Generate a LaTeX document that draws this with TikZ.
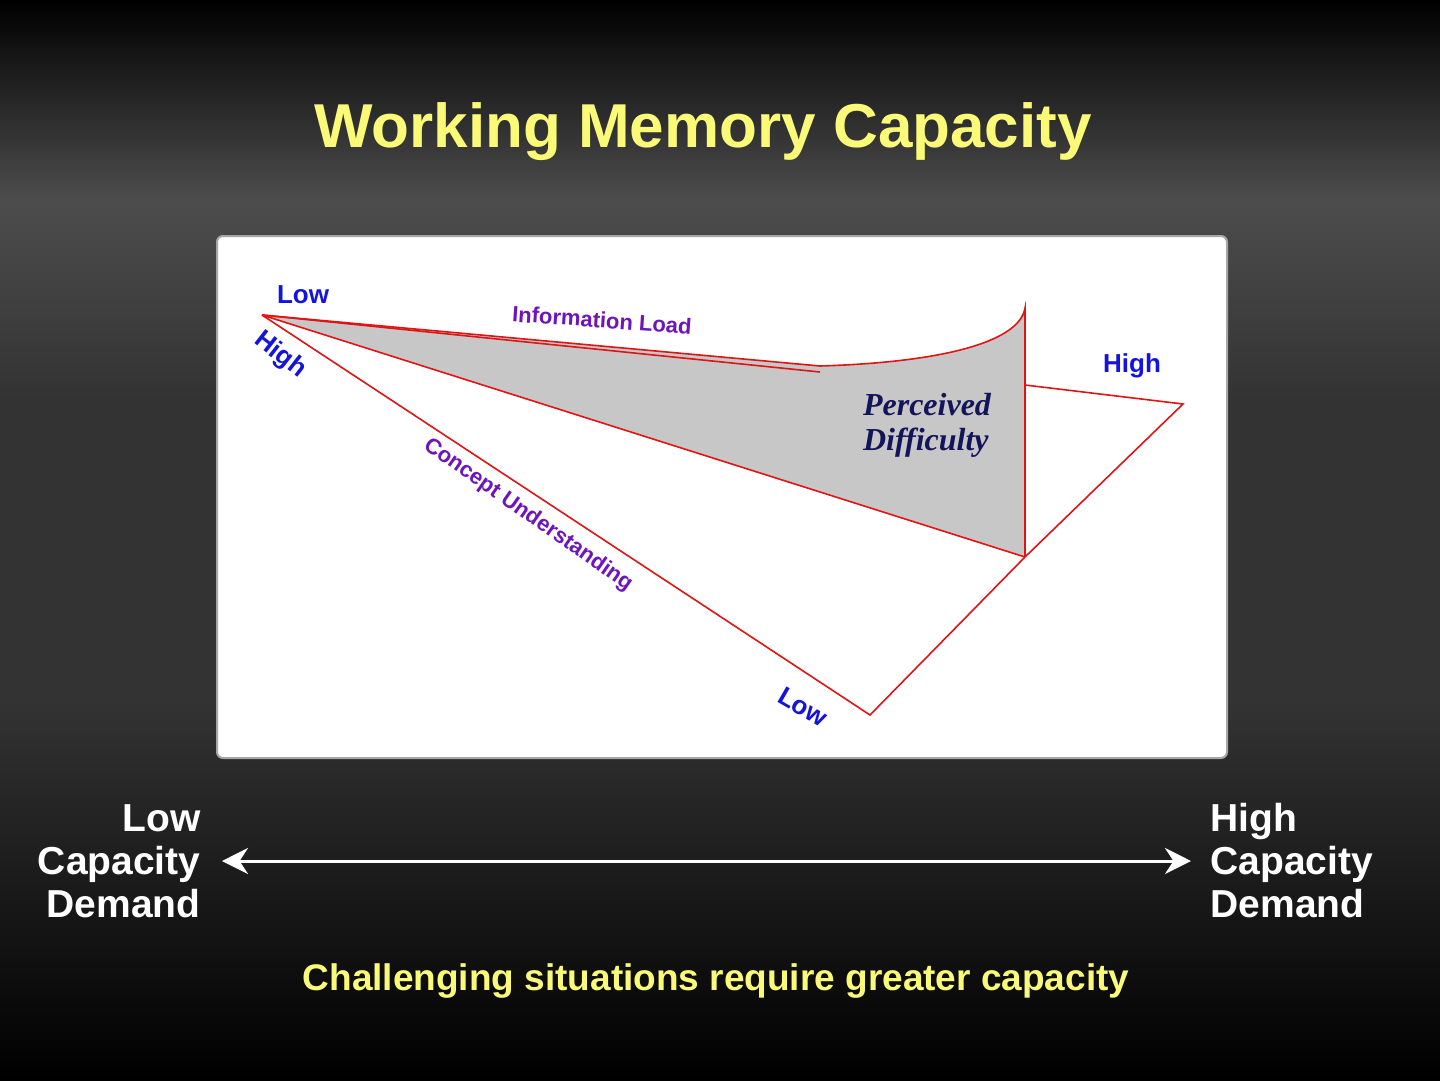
\documentclass[tikz,border=0pt]{standalone}
\usepackage{fontspec}
\setmainfont{Liberation Sans}
\newfontfamily\serifit{Liberation Serif}
\usetikzlibrary{arrows.meta,calc}
\definecolor{ttl}{RGB}{250,250,120}
\definecolor{lblue}{RGB}{20,20,220}
\definecolor{lpurp}{RGB}{110,20,190}
\definecolor{lred}{RGB}{225,20,20}
\definecolor{navy}{RGB}{20,20,90}
\tikzset{
 redl/.style={draw=lred,line width=1.6pt},
 blu/.style={text=lblue,font=\bfseries\fontsize{26}{28}\selectfont},
 pur/.style={text=lpurp,font=\bfseries\fontsize{22}{24}\selectfont},
 side/.style={text=white,font=\bfseries\fontsize{39}{43}\selectfont,align=#1},
}
\begin{document}
\begin{tikzpicture}[x=1pt,y=-1pt]
\useasboundingbox (0,0) rectangle (1440,1080);
\shade[top color=black,bottom color=black!60!gray,middle color=black!70] (0,0) rectangle (1440,400);
\shade[top color=black!60!gray,bottom color=black!60!gray] (0,400) rectangle (1440,700);
\shade[top color=black!60!gray,bottom color=black] (0,700) rectangle (1440,1080);
\node (title) [text=ttl,font=\bfseries\fontsize{62}{66}\selectfont] at (703,132) {Working Memory Capacity};
\draw[fill=white,draw=gray!70,line width=2pt,rounded corners=6pt] (217,236) rectangle (1227,758);
\coordinate (A) at (262,315);
\coordinate (M) at (820,366);
\coordinate (P) at (1025,308);
\coordinate (B) at (1025,557);
\coordinate (L) at (870,715);
\coordinate (R) at (1183,404);
\coordinate (H) at (1025,385);
\fill[black!22] (A) -- (M) .. controls (950,362) and (1020,340) .. (P) -- (B) -- cycle;
\draw[redl] (A) -- (M) .. controls (950,362) and (1020,340) .. (P) -- (B);
\draw[redl] (A) -- (820,372);
\draw[redl] (A) -- (B);
\draw[redl] (A) -- (L) -- (B) -- (R) -- (H);
\node (lo1) [blu] at (303,295) {Low};
\node (hi1) [blu,rotate=-38] at (280,355) {High};
\node (il) [pur,rotate=-4] at (602,320) {\textsc{Information Load}};
\node (cu) [pur,rotate=-35] at (528,515) {\textsc{Concept Understanding}};
\node (lo2) [blu,rotate=-30] at (803,707) {Low};
\node (hi2) [blu] at (1132,366) {High};
\node (pd) [text=navy,font=\serifit\bfseries\itshape\fontsize{32}{35}\selectfont,align=left] at (927,425) {Perceived\\Difficulty};
\node (lcd) [side=right,anchor=east] at (204,861) {Low\\Capacity\\Demand};
\node (hcd) [side=left,anchor=west] at (1207,861) {High\\Capacity\\Demand};
\draw[white,line width=3pt,{Stealth[length=26pt,width=26pt]}-{Stealth[length=26pt,width=26pt]}] ($(lcd.east)+(18,0)$) -- ($(hcd.west)+(-16,0)$);
\node (cap) [text=ttl,font=\bfseries\fontsize{37}{40}\selectfont] at (716,981) {Challenging situations require greater capacity};
\end{tikzpicture}
\end{document}
